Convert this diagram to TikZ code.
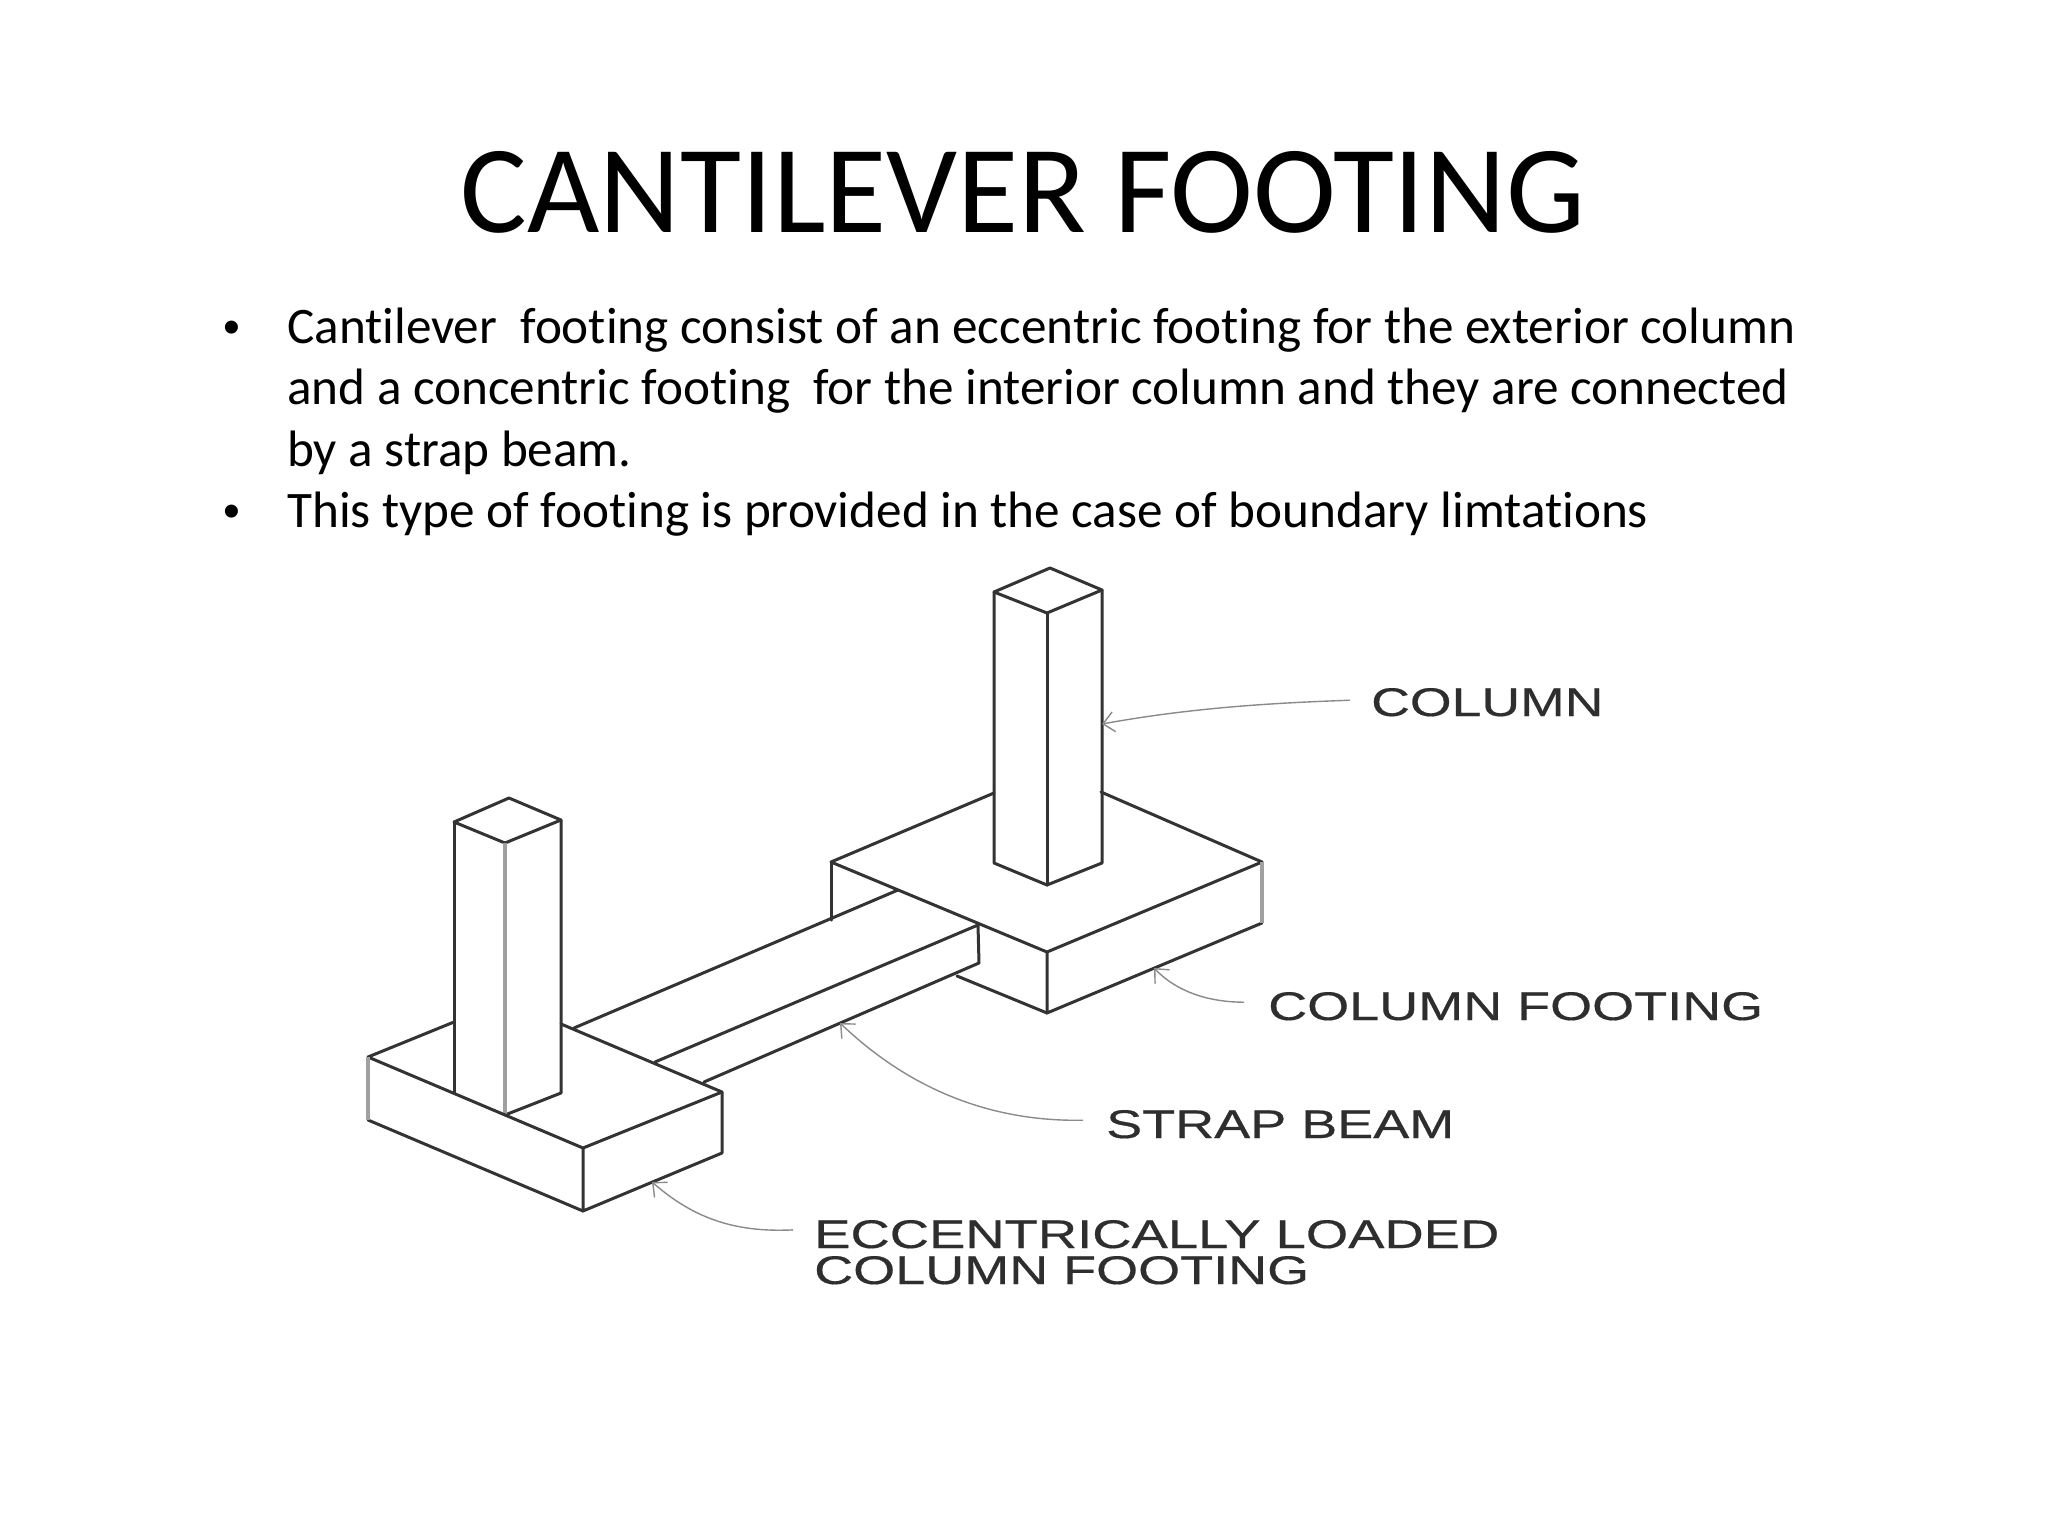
\documentclass[tikz,border=0pt]{standalone}
\usepackage{fontspec}
\usepackage{graphicx}
\setmainfont[Ligatures=NoCommon,Contextuals=NoAlternate]{Carlito}
\newfontfamily\labfont[FakeBold=0.4]{Liberation Sans}
\newfontfamily\bulfont{Liberation Sans}
\usetikzlibrary{arrows.meta}
\definecolor{inkline}{HTML}{333333}
\definecolor{softline}{HTML}{A0A0A0}
\definecolor{leader}{HTML}{8A8A8A}
\definecolor{labelink}{HTML}{2E2E2E}
\tikzset{
  edge/.style={draw=inkline,line width=3pt,line cap=round,line join=round},
  softedge/.style={draw=softline,line width=3.2pt},
  leaderline/.style={draw=leader,line width=1.4pt,-{Straight Barb[length=11pt,width=20pt,line width=1.4pt]}},
  drawlabel/.style={inner sep=0pt,anchor=base west,text=labelink,font=\labfont\fontsize{40}{36}\selectfont,align=left},
  bodytext/.style={inner sep=0pt,anchor=base west,text=black,font=\fontsize{51.2}{61.5}\selectfont,align=left},
  bullet/.style={inner sep=0pt,anchor=base,text=black,font=\bulfont\fontsize{48}{61.5}\selectfont},
}
\begin{document}
\begin{tikzpicture}[x=1pt,y=-1pt]
\useasboundingbox[fill=white] (0,0) rectangle (2048,1536);
% text
\node[inner sep=0pt,anchor=base,font=\fontsize{125}{125}\selectfont] (title) at (1023,232) {CANTILEVER FOOTING};
\node[bullet] (b1) at (232,343) {•};
\node[bodytext] (p1) at (287,466) {Cantilever\ \ footing consist of an eccentric footing for the exterior column\\and a concentric footing\ \ for the interior column and they are connected\\by a strap beam.};
\node[bullet] (b2) at (232,527) {•};
\node[bodytext] (p2) at (287,527) {This type of footing is provided in the case of boundary limtations};
% right column
\coordinate (rtl) at (994,592); \coordinate (rtb) at (1050,568); \coordinate (rtr) at (1102,590); \coordinate (rtf) at (1047,613);
\coordinate (rbl) at (994,863); \coordinate (rbf) at (1047,885); \coordinate (rbr) at (1102,863);
\draw[edge] (rtl)--(rtb)--(rtr)--(rtf)--cycle;
\draw[edge] (rtl)--(rbl)--(rbf)--(rbr)--(rtr);
\draw[edge] (rtf)--(rbf);
% right footing
\coordinate (fl) at (831,862); \coordinate (fbl) at (994,793); \coordinate (fbr) at (1101,792);
\coordinate (fr) at (1262,862); \coordinate (frb) at (1262,923); \coordinate (ff) at (1047,952);
\coordinate (ffb) at (1047,1013); \coordinate (flb) at (831,920); \coordinate (fu) at (957,976);
\draw[edge] (fl)--(fbl);
\draw[edge] (fbr)--(fr)--(ff)--(fl);
\draw[edge] (fl)--(flb);
\draw[edge] (ff)--(ffb)--(frb);
\draw[softedge] (fr)--(frb);
\draw[edge] (fu)--(ffb);
% strap beam
\coordinate (s1a) at (574,1028); \coordinate (s1b) at (898,890);
\coordinate (s2a) at (655,1062); \coordinate (s2b) at (978,925);
\coordinate (s3a) at (704,1082); \coordinate (s3b) at (979,963);
\draw[edge] (s1a)--(s1b);
\draw[edge] (s2a)--(s2b)--(s3b)--(s3a);
% left column
\coordinate (ltl) at (454,822); \coordinate (ltb) at (509,798); \coordinate (ltr) at (561,820); \coordinate (ltf) at (505,843);
\coordinate (lbl) at (454,1093); \coordinate (lbf) at (505,1115); \coordinate (lbr) at (561,1093);
\draw[edge] (ltl)--(ltb)--(ltr)--(ltf)--cycle;
\draw[edge] (ltl)--(lbl);
\draw[edge] (ltr)--(lbr)--(lbf);
\draw[softedge,line width=3.5pt] (ltf)--(lbf);
% left footing
\coordinate (gl) at (368,1057); \coordinate (glb) at (368,1120); \coordinate (gbl) at (454,1022);
\coordinate (gbr) at (561,1024); \coordinate (gf) at (583,1148); \coordinate (gfb) at (583,1211);
\coordinate (gr) at (722,1092); \coordinate (grb) at (722,1153);
\draw[edge] (gbl)--(gl)--(gf)--(gr)--(gbr);
\draw[edge] (gf)--(gfb)--(grb)--(gr);
\draw[edge] (glb)--(gfb);
\draw[softedge] (gl)--(glb);
% labels
\node[drawlabel] (lcol) at (1371,716) {\scalebox{1.34}[1]{COLUMN}};
\node[drawlabel] (lfoot) at (1268,1020) {\scalebox{1.35}[1]{COLUMN FOOTING}};
\node[drawlabel] (lstrap) at (1106,1138) {\scalebox{1.35}[1]{STRAP BEAM}};
\node[drawlabel] (lecc) at (814,1284) {\scalebox{1.36}[1]{ECCENTRICALLY LOADED}\\\scalebox{1.35}[1]{COLUMN FOOTING}};
% leaders
\coordinate (tcol) at (1102,724); \coordinate (tfoot) at (1154,968); \coordinate (tstrap) at (840,1023); \coordinate (tecc) at (652,1182);
\draw[leaderline] (lcol.west) ++(-21,-2) .. controls (1270,703) and (1190,708) .. (tcol);
\draw[leaderline] (lfoot.west) ++(-24,-4) .. controls (1205,1002) and (1175,990) .. (tfoot);
\draw[leaderline] (lstrap.west) ++(-23,-4) .. controls (985,1122) and (905,1085) .. (tstrap);
\draw[leaderline] (lecc.north west) ++(-21,10) .. controls (730,1233) and (690,1215) .. (tecc);
\end{tikzpicture}
\end{document}
